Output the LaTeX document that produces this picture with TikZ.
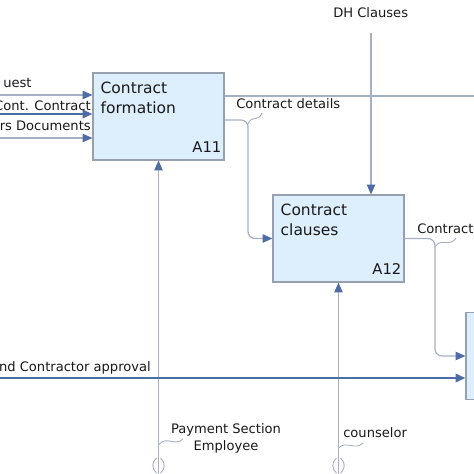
\documentclass[tikz,border=0pt]{standalone}
\usepackage{fontspec}
\setmainfont{DejaVu Sans}
\usetikzlibrary{arrows.meta,positioning}
\definecolor{boxfill}{RGB}{221,238,252}
\definecolor{boxline}{RGB}{150,160,175}
\definecolor{flowgray}{RGB}{165,176,196}
\definecolor{flowblue}{RGB}{74,110,168}
\definecolor{headblue}{RGB}{79,108,165}
\definecolor{txt}{RGB}{25,25,25}
\newcommand{\tunnelmark}[1]{%
  \draw[squig] ([shift={(-2,-16)}]#1) .. controls +(-5,4) and +(-5,-4) .. ([shift={(-2,-1)}]#1);
  \draw[squig] ([shift={(2,-16)}]#1) .. controls +(5,4) and +(5,-4) .. ([shift={(2,-1)}]#1);}

\begin{document}
\begin{tikzpicture}[x=0.025cm,y=-0.025cm,
  fnbox/.style={draw=boxline,fill=boxfill,line width=0.8pt,minimum width=3.275cm,minimum height=2.175cm,inner sep=0pt},
  boxtext/.style={anchor=north west,inner sep=0pt,align=left,font=\fontsize{11}{14.4}\selectfont,text=txt},
  boxnum/.style={anchor=base east,inner sep=0pt,font=\fontsize{10.5}{12}\selectfont,text=txt},
  lbl/.style={inner sep=0pt,font=\fontsize{9.3}{12.2}\selectfont,text=txt},
  flow/.style={draw=flowgray,line width=0.85pt},
  bflow/.style={draw=flowblue,line width=1.5pt},
  head/.style={-{Triangle[length=7pt,width=6pt,color=headblue]}},
  squig/.style={draw=flowgray,line width=0.65pt}]
  \useasboundingbox (0,0) rectangle (474,474);
  \clip (0,0) rectangle (474,474);
  % activity boxes
  \node[fnbox] (A11) at (158.5,116.5) {};
  \node[boxtext] (A11t) at ([shift={(8,9)}]A11.north west) {Contract\\formation};
  \node[boxnum] (A11n) at ([shift={(-3,-8)}]A11.south east) {A11};
  \node[fnbox] (A12) at (338.5,238.5) {};
  \node[boxtext] (A12t) at ([shift={(8,9)}]A12.north west) {Contract\\clauses};
  \node[boxnum] (A12n) at ([shift={(-3,-8)}]A12.south east) {A12};
  \node[fnbox] (A13) at (531.5,356) {};
  % inputs of A11
  \coordinate (i1) at (0,95);
  \coordinate (i2) at (0,114);
  \coordinate (i3) at (0,138);
  \draw[flow,head] (i1) -- (i1 -| A11.west);
  \draw[bflow,head] (i2) -- (i2 -| A11.west);
  \draw[flow,head] (i3) -- (i3 -| A11.west);
  \node[lbl,anchor=base west] (i1l) at (3,87) {uest};
  \node[lbl,anchor=base east] (i2l) at (91,110) {Cont. Contract};
  \node[lbl,anchor=base east] (i3l) at (91,130) {rs Documents};
  % outputs of A11
  \coordinate (o1) at (474,96);
  \draw[flow] (o1 -| A11.east) -- (o1);
  \coordinate (b1) at (248,120);
  \draw[flow,head,rounded corners=5pt] (b1 -| A11.east) -- (b1) -- (b1 |- A12.west) -- (A12.west);
  \node[lbl,anchor=base west] (b1l) at (236,108) {Contract details};
  \draw[squig] (248,124) .. controls +(4,-10) and +(-4,10) .. (262,113);
  % control of A12
  \coordinate (dh) at (371,33);
  \draw[flow,head] (dh) -- (dh |- A12.north);
  \node[lbl,anchor=base west] (dhl) at (333,17) {DH Clauses};
  % output of A12
  \coordinate (b2) at (435,238.5);
  \draw[flow,head,rounded corners=5pt] (A12.east) -- (b2) -- (b2 |- A13.west) -- (A13.west);
  \node[lbl,anchor=base west] (b2l) at (417,233) {Contract};
  \draw[squig] (435,247) .. controls +(6,-10) and +(-6,10) .. (456,238);
  % mechanisms
  \coordinate (m1) at (158.5,474);
  \draw[flow,head] (m1) -- (m1 |- A11.south);
  \tunnelmark{m1}
  \node[lbl,anchor=north,align=center] (m1l) at (226,423) {Payment Section\\Employee};
  \draw[squig] (158.5,445) .. controls +(8,-10) and +(-8,8) .. (183,439);
  \coordinate (m2) at (338.5,474);
  \draw[flow,head] (m2) -- (m2 |- A12.south);
  \tunnelmark{m2}
  \node[lbl,anchor=base west] (m2l) at (343,437) {counselor};
  \draw[squig] (338.5,448) .. controls +(8,-8) and +(-8,8) .. (363,443);
  % input of A13
  \coordinate (i4) at (0,378);
  \draw[bflow,head] (i4) -- (i4 -| A13.west);
  \node[lbl,anchor=base east] (i4l) at (151,371) {nd Contractor approval};
\end{tikzpicture}
\end{document}
